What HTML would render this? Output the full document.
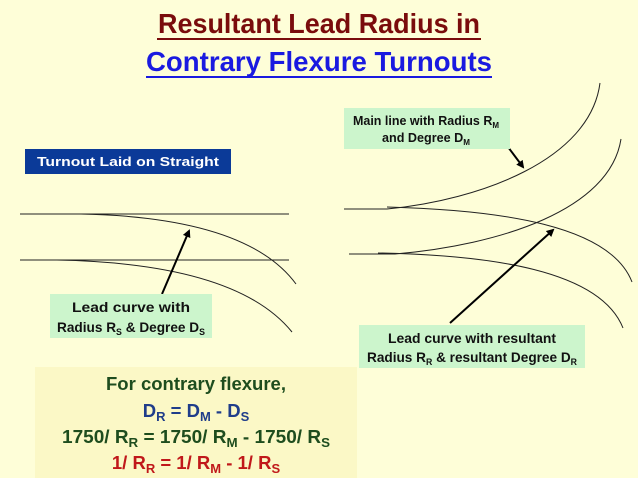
<!DOCTYPE html>
<html><head><meta charset="utf-8"><style>
html,body{margin:0;padding:0;background:#fefed8;}
svg{display:block;font-family:"Liberation Sans",sans-serif;font-weight:bold;}
</style></head><body>
<svg width="638" height="478" viewBox="0 0 638 478" xmlns="http://www.w3.org/2000/svg">
<defs><marker id="ah" markerWidth="8" markerHeight="8" refX="6" refY="4" orient="auto" markerUnits="userSpaceOnUse"><path d="M0,0 L8,4 L0,8 z" fill="#000"/></marker></defs>
<rect width="638" height="478" fill="#fefed8"/>
<!-- Title -->
<text x="319" y="33" text-anchor="middle" font-size="28" fill="#7a0c0c" textLength="322" lengthAdjust="spacingAndGlyphs">Resultant Lead Radius in</text>
<line x1="157" y1="39" x2="481" y2="39" stroke="#7a0c0c" stroke-width="2"/>
<text x="319" y="71" text-anchor="middle" font-size="28" fill="#1a1ae0" textLength="346" lengthAdjust="spacingAndGlyphs">Contrary Flexure Turnouts</text>
<line x1="146" y1="77" x2="492" y2="77" stroke="#1a1ae0" stroke-width="2"/>
<!-- Left box -->
<rect x="25" y="149" width="206" height="25" fill="#0b3a98"/>
<text x="128" y="166" text-anchor="middle" font-size="13" fill="#fff" textLength="182" lengthAdjust="spacingAndGlyphs">Turnout Laid on Straight</text>
<!-- tracks -->
<g stroke="#222" stroke-width="1" fill="none">
<line x1="20" y1="214" x2="289" y2="214"/>
<line x1="20" y1="260" x2="289" y2="260"/>
<path d="M81,214 C180,216 260,235 296,284"/>
<path d="M57,260 C160,262 250,280 292,332"/>
<path d="M344,209 L387,209 C480,200 590,160 600,83"/>
<path d="M349,254 L395,254 C500,245 610,210 621,139"/>
<path d="M387,207 C500,210 610,225 632,282"/>
<path d="M378,253 C490,255 600,270 623,328"/>
</g>
<g stroke="#000" stroke-width="2" marker-end="url(#ah)">
<line x1="162" y1="294" x2="189" y2="231"/>
<line x1="505" y1="143" x2="523" y2="167"/>
<line x1="450" y1="323" x2="553" y2="230"/>
</g>
<!-- Lead box left -->
<rect x="50" y="294" width="162" height="44" fill="#ccf5cc"/>
<g font-size="14" fill="#111" text-anchor="middle">
<text x="131" y="312" textLength="118" lengthAdjust="spacingAndGlyphs">Lead curve with</text>
<text x="131" y="332" textLength="148" lengthAdjust="spacingAndGlyphs">Radius R<tspan font-size="9" dy="3">S</tspan><tspan dy="-3"> &amp; Degree D</tspan><tspan font-size="9" dy="3">S</tspan></text>
</g>
<!-- Main box -->
<rect x="344" y="108" width="166" height="41" fill="#ccf5cc"/>
<g font-size="12.5" fill="#111" text-anchor="middle">
<text x="426" y="125" textLength="146" lengthAdjust="spacingAndGlyphs">Main line with Radius R<tspan font-size="8" dy="3">M</tspan></text>
<text x="426" y="142" textLength="88" lengthAdjust="spacingAndGlyphs">and Degree D<tspan font-size="8" dy="3">M</tspan></text>
</g>
<!-- Lead right -->
<rect x="359" y="325" width="226" height="43" fill="#ccf5cc"/>
<g font-size="14" fill="#111" text-anchor="middle">
<text x="472" y="343" textLength="168" lengthAdjust="spacingAndGlyphs">Lead curve with resultant</text>
<text x="472" y="362" textLength="210" lengthAdjust="spacingAndGlyphs">Radius R<tspan font-size="9" dy="3">R</tspan><tspan dy="-3"> &amp; resultant Degree D</tspan><tspan font-size="9" dy="3">R</tspan></text>
</g>
<!-- Formula box -->
<rect x="35" y="367" width="322" height="111" fill="#fbf8c6"/>
<g font-size="18.5" text-anchor="middle">
<text x="196" y="390" fill="#1e4d1e" textLength="180" lengthAdjust="spacingAndGlyphs">For contrary flexure,</text>
<text x="196" y="417" fill="#1f3d8a">D<tspan font-size="13" dy="4">R</tspan><tspan dy="-4"> = D</tspan><tspan font-size="13" dy="4">M</tspan><tspan dy="-4"> - D</tspan><tspan font-size="13" dy="4">S</tspan></text>
<text x="196" y="443" fill="#1e4d1e" textLength="268" lengthAdjust="spacingAndGlyphs">1750/ R<tspan font-size="13" dy="4">R</tspan><tspan dy="-4"> = 1750/ R</tspan><tspan font-size="13" dy="4">M</tspan><tspan dy="-4"> - 1750/ R</tspan><tspan font-size="13" dy="4">S</tspan></text>
<text x="196" y="469" fill="#c0181a">1/ R<tspan font-size="13" dy="4">R</tspan><tspan dy="-4"> = 1/ R</tspan><tspan font-size="13" dy="4">M</tspan><tspan dy="-4"> - 1/ R</tspan><tspan font-size="13" dy="4">S</tspan></text>
</g>
</svg>
</body></html>
